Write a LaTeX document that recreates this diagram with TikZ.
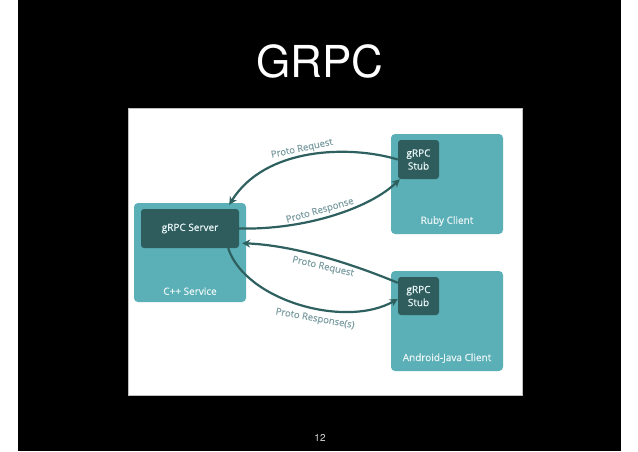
\documentclass[tikz,border=0pt]{standalone}
\usepackage{fontspec}
\setmainfont{Open Sans}[FakeBold=0.6]
\newfontfamily\slidefont{TeX Gyre Heros}
\usepackage{tikz}
\usetikzlibrary{arrows.meta,positioning,calc}
\definecolor{boxteal}{RGB}{91,175,182}
\definecolor{stubdark}{RGB}{47,92,93}
\definecolor{flowcol}{RGB}{46,96,95}
\definecolor{msgcol}{RGB}{125,158,163}
\definecolor{boxtext}{RGB}{232,245,246}

\begin{document}
\begin{tikzpicture}[x=1pt,y=-1pt,
  service/.style={fill=boxteal,rounded corners=4pt,minimum width=112pt,minimum height=100pt,inner sep=0pt},
  stubbox/.style={fill=stubdark,rounded corners=3pt,inner sep=0pt,text=boxtext,align=center,
    font=\fontsize{10}{13}\selectfont},
  boxname/.style={text=boxtext,font=\fontsize{10}{12}\selectfont},
  flow/.style={draw=flowcol,line width=2.2pt,-{Stealth[length=8pt,width=8pt]}},
  msg/.style={text=msgcol,font=\fontsize{9.5}{11}\selectfont}]
\useasboundingbox (0,0) rectangle (638,451);

% slide
\fill[white] (0,0) rectangle (638,451);
\fill[black] (18,0) rectangle (621,451);
\node[text=white,font=\slidefont\fontsize{44}{48}\selectfont,anchor=base] (title) at (320,77) {GRPC};
\node[text=black!15,font=\slidefont\fontsize{10}{12}\selectfont,anchor=base] (pagenum) at (320,441) {12};
\fill[white,draw=black!25,line width=0.5pt] (128,108) rectangle (522,395);

% services
\node[service,minimum height=99pt] (cpp) at (190,252.5) {};
\node[stubbox,minimum width=98pt,minimum height=39pt,below right=6pt and 7pt of cpp.north west] (server) {gRPC Server};
\node[boxname] (cppname) at (cpp.south) [yshift=11pt] {C++ Service};

\node[service] (ruby) at (447,184) {};
\node[stubbox,minimum width=41pt,minimum height=39pt,below right=6pt and 7pt of ruby.north west] (rubystub) {gRPC\\Stub};
\node[boxname] (rubyname) at (ruby.south) [yshift=13pt] {Ruby Client};

\node[service] (android) at (447,321) {};
\node[stubbox,minimum width=41pt,minimum height=38pt,below right=6pt and 7pt of android.north west] (androidstub) {gRPC\\Stub};
\node[boxname] (androidname) at (android.south) [yshift=13pt] {Android-Java Client};

% calls
\draw[flow] (rubystub.west) .. controls +(-48,-14.5) and +(36,-58) .. ($(server.north east)+(-10,-4)$);
\draw[flow] (server.east) .. controls +(66,1.5) and +(-30,29) .. ($(rubystub.south west)+(2,0)$);
\draw[flow] ($(androidstub.north west)+(0,6)$) .. controls +(-53,-22) and +(48,2) .. ($(server.south east)+(3,-5)$);
\draw[flow] ($(server.south east)+(-11,0)$) .. controls +(17,52) and +(-53,30) .. ($(androidstub.west)+(0,3)$);

% labels
\node[msg,rotate=12] (req1) at (302,149) {Proto Request};
\node[msg,rotate=16] (resp1) at (320,211) {Proto Response};
\node[msg,rotate=-13] (req2) at (323,267) {Proto Request};
\node[msg,rotate=-10] (resp2) at (315,319) {Proto Response(s)};
\end{tikzpicture}
\end{document}
